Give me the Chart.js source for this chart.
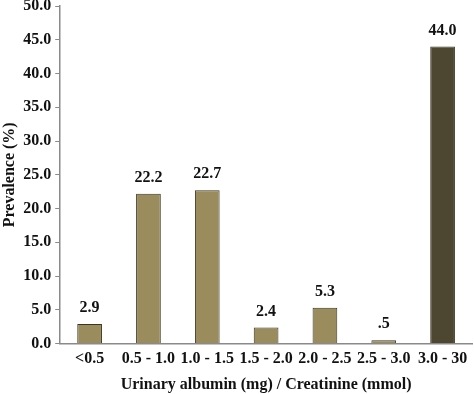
<!DOCTYPE html>
<html>
<head>
<meta charset="utf-8">
<script src="https://cdn.jsdelivr.net/npm/chart.js@4"></script>
<style>
  html, body { margin: 0; padding: 0; background: #fff; }
  .chart-container { width: 474px; height: 394px; }
</style>
</head>
<body>
<div class="chart-container"><canvas id="chart"></canvas></div>
<script>
const categories = ['<0.5', '0.5 - 1.0', '1.0 - 1.5', '1.5 - 2.0', '2.0 - 2.5', '2.5 - 3.0', '3.0 - 30'];
const prevalence = [2.9, 22.2, 22.7, 2.4, 5.3, 0.5, 44.0];
const valueLabels = ['2.9', '22.2', '22.7', '2.4', '5.3', '.5', '44.0'];
const barColors = ['#9a8c5c', '#9a8c5c', '#9a8c5c', '#9a8c5c', '#9a8c5c', '#9a8c5c', '#4d4630'];

const fontFamily = '"Liberation Serif", "Times New Roman", serif';

// draws value above each bar
const valueLabelPlugin = {
    id: 'valueLabels',
    afterDatasetsDraw: (chart) => {
        const ctx = chart.ctx;
        const meta = chart.getDatasetMeta(0);
        ctx.save();
        ctx.font = 'bold 16px ' + fontFamily;
        ctx.fillStyle = '#111';
        ctx.textAlign = 'center';
        ctx.textBaseline = 'bottom';
        meta.data.forEach((bar, i) => {
            ctx.fillText(valueLabels[i], bar.x, bar.y - 8);
        });
        ctx.restore();
    }
};

new Chart(document.getElementById('chart'), {
    type: 'bar',
    data: {
        labels: categories,
        datasets: [{
            data: prevalence,
            backgroundColor: barColors,
            borderColor: '#3a3420',
            borderWidth: 1,
            categoryPercentage: 0.84,
            barPercentage: 0.5
        }]
    },
    options: {
        animation: false,
        responsive: true,
        maintainAspectRatio: false,
        layout: { padding: { top: 0, right: 2, left: 0, bottom: 0 } },
        plugins: {
            legend: { display: false },
            tooltip: { enabled: false }
        },
        scales: {
            x: {
                grid: { display: false, drawTicks: false },
                border: { color: '#8a8a8a', width: 1.5 },
                ticks: {
                    color: '#111',
                    font: { family: fontFamily, size: 16, weight: 'bold' },
                    padding: 6,
                    maxRotation: 0,
                    autoSkip: false
                },
                title: {
                    display: true,
                    text: 'Urinary albumin (mg) / Creatinine (mmol)',
                    color: '#111',
                    font: { family: fontFamily, size: 16, weight: 'bold' },
                    padding: { top: 0, bottom: 0 }
                }
            },
            y: {
                min: 0,
                max: 50,
                afterFit: (scale) => { scale.paddingTop = 6; },
                grid: { drawOnChartArea: false, tickLength: 5, color: '#8a8a8a' },
                border: { color: '#8a8a8a', width: 1.5 },
                ticks: {
                    stepSize: 5,
                    color: '#111',
                    font: { family: fontFamily, size: 16, weight: 'bold' },
                    padding: 4,
                    callback: (v) => v.toFixed(1)
                },
                title: {
                    display: true,
                    text: 'Prevalence (%)',
                    color: '#111',
                    font: { family: fontFamily, size: 16, weight: 'bold' },
                    padding: { top: 0, bottom: 0 }
                }
            }
        }
    },
    plugins: [valueLabelPlugin]
});
</script>
</body>
</html>
